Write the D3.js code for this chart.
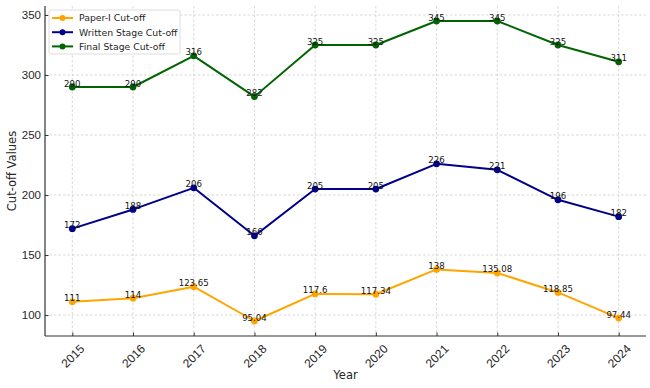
<!DOCTYPE html>
<html lang="en">
<head>
    <meta charset="UTF-8">
    <title>Cut-off trend</title>
    <script src="https://d3js.org/d3.v7.min.js"></script>
    <style>
        body { margin: 0; background: #fff; }
        svg { font-family: "DejaVu Sans", sans-serif; }
        .grid line { stroke: #cfcfcf; stroke-dasharray: 2.5,2; stroke-width: 0.8; }
        .axis text { fill: #262626; font-size: 11.5px; }
        .axis path, .axis line { stroke: #333; }
        .xax text { font-size: 12px; }
        .val { font-size: 8.6px; fill: #111; text-anchor: middle; }
        .legend_text { font-size: 9.3px; fill: #262626; }
    </style>
</head>
<body>
<svg width="650" height="388"></svg>
<script>
    const years = [2015, 2016, 2017, 2018, 2019, 2020, 2021, 2022, 2023, 2024];
    const paper1 = [111, 114, 123.65, 95.04, 117.6, 117.34, 138, 135.08, 118.85, 97.44];
    const written = [172, 188, 206, 166, 205, 205, 226, 221, 196, 182];
    const finalStage = [290, 290, 316, 282, 325, 325, 345, 345, 325, 311];
    const yTicks = [100, 150, 200, 250, 300, 350];

    const series = [
        { name: "Paper-I Cut-off", values: paper1, color: "#FFA500" },
        { name: "Written Stage Cut-off", values: written, color: "#00008B" },
        { name: "Final Stage Cut-off", values: finalStage, color: "#006400" }
    ];

    let svg = d3.select("svg");
    const pLeft = 45, pRight = 646, pTop = 6, pBottom = 336;

    // matplotlib-like 5% margins
    let x = d3.scaleLinear()
        .domain([years[0] - 0.45, years[years.length - 1] + 0.45])
        .range([pLeft, pRight]);
    let allVals = paper1.concat(written, finalStage);
    let lo = d3.min(allVals), hi = d3.max(allVals), pad = (hi - lo) * 0.05;
    let y = d3.scaleLinear()
        .domain([lo - pad, hi + pad])
        .range([pBottom, pTop]);

    // grid
    let grid = svg.append("g").attr("class", "grid");
    grid.selectAll(".gx").data(years).enter().append("line")
        .attr("x1", d => x(d)).attr("x2", d => x(d))
        .attr("y1", pTop).attr("y2", pBottom);
    grid.selectAll(".gy").data(yTicks).enter().append("line")
        .attr("x1", pLeft).attr("x2", pRight)
        .attr("y1", d => y(d)).attr("y2", d => y(d));

    // axes
    let xAxis = svg.append("g").attr("class", "axis xax")
        .attr("transform", `translate(0,${pBottom})`)
        .call(d3.axisBottom(x).tickValues(years).tickFormat(d3.format("d"))
            .tickSizeInner(-3.5).tickSizeOuter(0));
    xAxis.select(".domain").attr("d", `M${pLeft},0H${pRight}`).attr("stroke-width", 1.2);
    xAxis.selectAll("text")
        .attr("text-anchor", "middle")
        .attr("dy", "0.35em")
        .attr("y", 0).attr("x", 0)
        .attr("transform", "translate(0,20) rotate(-45)");

    let yAxis = svg.append("g").attr("class", "axis")
        .attr("transform", `translate(${pLeft},0)`)
        .call(d3.axisLeft(y).tickValues(yTicks).tickSizeInner(-3.5).tickSizeOuter(0).tickPadding(4));
    yAxis.select(".domain").attr("d", `M0,${pTop}V${pBottom}`).attr("stroke-width", 1.2);

    svg.append("text").attr("x", (pLeft + pRight) / 2).attr("y", 379)
        .attr("text-anchor", "middle").attr("font-size", 11.5).attr("fill", "#262626").text("Year");
    svg.append("text").attr("transform", `translate(15.5,${(pTop + pBottom) / 2}) rotate(-90)`)
        .attr("text-anchor", "middle").attr("font-size", 11.5).attr("fill", "#262626").text("Cut-off Values");

    // lines, markers, labels
    const line = d3.line().x((d, i) => x(years[i])).y(d => y(d));
    series.forEach(s => {
        let g = svg.append("g");
        g.append("path").attr("d", line(s.values))
            .attr("fill", "none").attr("stroke", s.color).attr("stroke-width", 2)
            .attr("stroke-linejoin", "round");
        g.selectAll("circle").data(s.values).enter().append("circle")
            .attr("cx", (d, i) => x(years[i])).attr("cy", d => y(d))
            .attr("r", 3.4).attr("fill", s.color);
        g.selectAll("text").data(s.values).enter().append("text")
            .attr("class", "val")
            .attr("x", (d, i) => x(years[i])).attr("y", d => y(d) - 0.5)
            .text(d => d);
    });

    // legend
    let lg = svg.append("g").attr("transform", "translate(49,10)");
    lg.append("rect").attr("width", 131).attr("height", 44).attr("rx", 2)
        .attr("fill", "white").attr("fill-opacity", 0.85).attr("stroke", "#ddd");
    series.forEach((s, i) => {
        let row = lg.append("g").attr("transform", `translate(0,${8 + i * 14.2})`);
        row.append("line").attr("x1", 3).attr("x2", 24).attr("stroke", s.color).attr("stroke-width", 2);
        row.append("circle").attr("cx", 13.5).attr("r", 3).attr("fill", s.color);
        row.append("text").attr("class", "legend_text").attr("x", 30).attr("y", 3.4).text(s.name);
    });
</script>
</body>
</html>
